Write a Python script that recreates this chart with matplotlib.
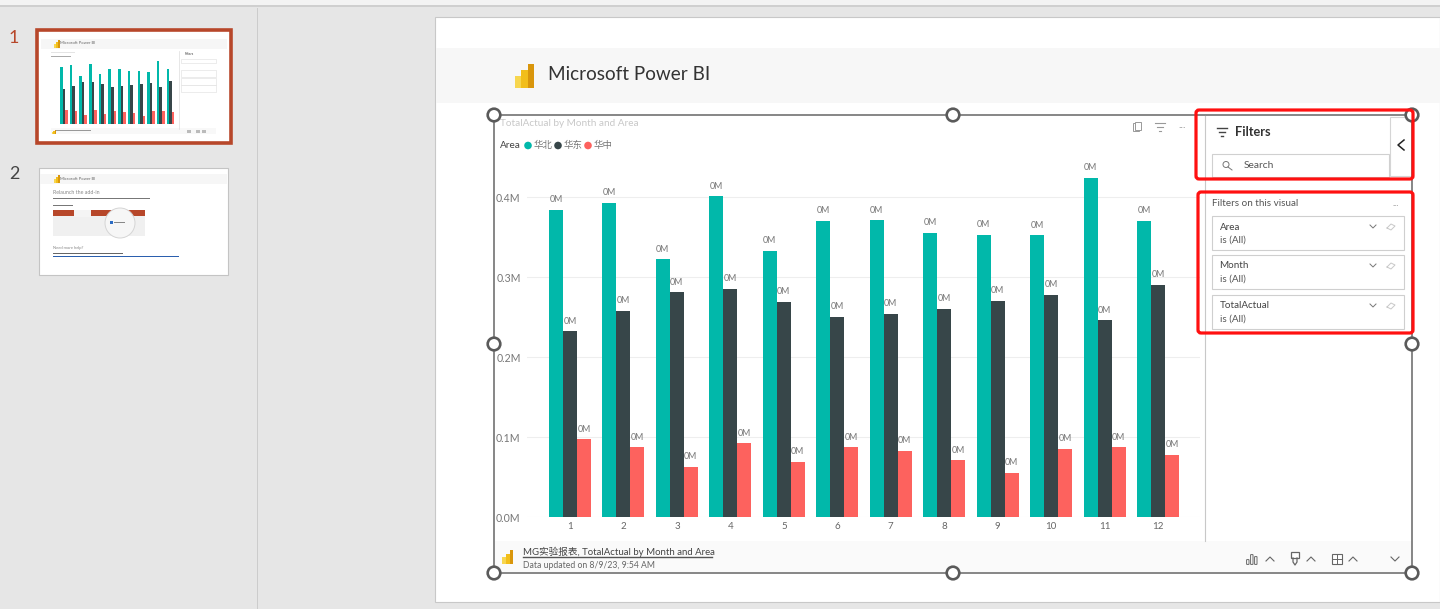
import matplotlib
matplotlib.use("Agg")
import matplotlib.pyplot as plt
from matplotlib.patches import Rectangle, Circle, FancyBboxPatch

plt.rcParams['font.family'] = ['Lato', 'Noto Sans CJK SC', 'DejaVu Sans']

# values, in millions
months = ['1', '2', '3', '4', '5', '6', '7', '8', '9', '10', '11', '12']
huabei = [0.384, 0.393, 0.322, 0.401, 0.333, 0.370, 0.371, 0.355, 0.353, 0.352, 0.424, 0.370]
huadong = [0.232, 0.258, 0.281, 0.285, 0.269, 0.250, 0.254, 0.260, 0.270, 0.278, 0.246, 0.290]
huazhong = [0.097, 0.087, 0.063, 0.092, 0.069, 0.087, 0.083, 0.071, 0.055, 0.085, 0.087, 0.078]
y_ticks = [0.0, 0.1, 0.2, 0.3, 0.4]
y_tick_labels = ['0.0M', '0.1M', '0.2M', '0.3M', '0.4M']
area_names = ['华北', '华东', '华中']
filter_names = ['Area', 'Month', 'TotalActual']

TEAL = '#01B8AA'
DARK = '#374649'
RED = '#FD625E'
W, H = 1440, 609
BAR_W = 0.262
X_RANGE = (0.196, 12.786)

fig = plt.figure(figsize=(14.4, 6.09), dpi=100, facecolor='#e6e6e6')


def px_axes(x0, y0, x1, y1, zorder):
    # axes placed by pixel box, y measured from the top of the picture
    return fig.add_axes([x0 / W, 1 - y1 / H, (x1 - x0) / W, (y1 - y0) / H], zorder=zorder)


def draw_bars(ax, xlim):
    x = list(range(1, len(months) + 1))
    series = [huabei, huadong, huazhong]
    colors = [TEAL, DARK, RED]
    containers = []
    for i in range(3):
        pos = [v + (i - 1) * BAR_W for v in x]
        containers.append(ax.bar(pos, series[i], BAR_W, color=colors[i], linewidth=0, zorder=3))
    ax.set_xlim(*xlim)
    ax.set_ylim(0, 0.45)
    ax.set_xticks(x)
    ax.set_yticks(y_ticks)
    ax.patch.set_alpha(0)
    for s in ax.spines.values():
        s.set_visible(False)
    return containers


# overlay for all the window chrome, in pixels
bg = px_axes(0, 0, W, H, 0)
bg.set_xlim(0, W)
bg.set_ylim(H, 0)
bg.axis('off')

bg.add_patch(Rectangle((0, 0), W, 5, color='#f3f3f3', lw=0))
bg.add_patch(Rectangle((0, 5), W, 2, color='#cfcfcf', lw=0))
bg.add_patch(Rectangle((257, 8), 1, H, color='#cccccc', lw=0))
bg.add_patch(Rectangle((435, 17), 1005, 585, facecolor='white', edgecolor='#c8c8c8', lw=0.8))
bg.add_patch(Rectangle((436, 48), 1004, 55, color='#f7f7f7', lw=0))
bg.add_patch(Rectangle((495, 541), 917, 31, color='#fafafa', lw=0))


def logo(ax, x, y, s):
    # power bi mark, three rising bars
    for dx, dy, c in [(0, 12, '#F7D64F'), (6.3, 6, '#F2BE1A'), (12.6, 0, '#D9960C')]:
        ax.add_patch(Rectangle((x + dx * s, y + dy * s), 6.4 * s, (24 - dy) * s, color=c, lw=0))


logo(bg, 515, 64, 1)
bg.text(548, 75, 'Microsoft Power BI', fontsize=13.6, color='#333333', va='center')

# slide numbers
bg.text(9, 38, '1', fontsize=13, color='#B7472A', va='center')
bg.text(9, 174, '2', fontsize=13, color='#444444', va='center')

# thumbnail 1
bg.add_patch(Rectangle((37, 30), 194, 113, facecolor='white', edgecolor='#B7472A', lw=2.6))
bg.add_patch(Rectangle((41, 39), 186, 10, color='#f6f6f6', lw=0))
logo(bg, 53.5, 39.5, 0.34)
bg.text(60, 43.5, 'Microsoft Power BI', fontsize=3, color='#666666', va='center')
bg.add_patch(Rectangle((51, 52), 24, 1.2, color='#e4e4e4', lw=0))
bg.add_patch(Rectangle((51, 56), 20, 1.2, color='#aaaaaa', lw=0))
bg.plot([179, 179], [51, 129], color='#dddddd', lw=0.5)
bg.add_patch(Rectangle((181, 59), 35, 4, facecolor='white', edgecolor='#dddddd', lw=0.4))
for y0 in (70, 78, 85):
    bg.add_patch(Rectangle((181, y0), 35, 6.5, facecolor='white', edgecolor='#dddddd', lw=0.4))
bg.text(185, 54, 'Filters', fontsize=2.4, color='#444444', va='center')
bg.add_patch(Rectangle((51, 128), 165, 6, color='#f8f8f8', lw=0))
logo(bg, 52, 129.5, 0.2)
bg.add_patch(Rectangle((56, 130), 35, 1, color='#999999', lw=0))
bg.add_patch(Rectangle((56, 132.5), 24, 0.8, color='#cccccc', lw=0))
for i in (187, 196, 202):
    bg.add_patch(Rectangle((i, 130), 4, 3, color='#bbbbbb', lw=0))

# thumbnail 2
bg.add_patch(Rectangle((39, 168), 189, 107, facecolor='white', edgecolor='#c4c4c4', lw=0.8))
bg.add_patch(Rectangle((40, 174), 187, 10, color='#f6f6f6', lw=0))
logo(bg, 53.5, 174.5, 0.34)
bg.text(60, 179, 'Microsoft Power BI', fontsize=3, color='#666666', va='center')
bg.text(53, 192, 'Relaunch the add-in', fontsize=3.8, color='#888888', va='center')
bg.add_patch(Rectangle((53, 198), 97, 1, color='#777777', lw=0))
bg.add_patch(Rectangle((53, 204.5), 20, 1, color='#777777', lw=0))
bg.add_patch(Rectangle((53, 210), 92, 6, color='#B7472A', lw=0))
bg.add_patch(Rectangle((53, 216), 92, 20, color='#f0f0f0', lw=0))
bg.add_patch(Rectangle((74, 210), 17, 7, color='#f4f4f4', lw=0))
bg.add_patch(Circle((120, 223), 15, facecolor='#f6f6f6', edgecolor='#d5d5d5', lw=0.7, zorder=3))
bg.add_patch(Rectangle((110, 221), 3, 3, color='#2b6cc4', lw=0, zorder=4))
bg.add_patch(Rectangle((114, 222), 11, 1, color='#888888', lw=0, zorder=4))
bg.text(53, 247.5, 'Need more help?', fontsize=3, color='#888888', va='center')
bg.add_patch(Rectangle((53, 253), 70, 0.8, color='#666666', lw=0))
bg.add_patch(Rectangle((53, 256), 126, 0.8, color='#2b5fae', lw=0))

# main chart
ax = px_axes(527, 157, 1200, 517, 1)
bars = draw_bars(ax, X_RANGE)
for c in bars:
    ax.bar_label(c, labels=['0M'] * len(months), padding=4, fontsize=6.4, color='#777777')
ax.set_yticklabels(y_tick_labels, fontsize=7.6, color='#777777')
ax.set_xticklabels(months, fontsize=7, color='#666666')
ax.tick_params(length=0)
ax.tick_params(axis='x', pad=3.5)
ax.tick_params(axis='y', pad=4.5)
ax.grid(axis='y', color='#eeeeee', lw=0.8, zorder=0)
ax.set_axisbelow(True)

# thumbnail chart, same numbers
mini = px_axes(56, 57, 178, 124, 1)
draw_bars(mini, X_RANGE)
mini.set_xticks([])
mini.set_yticks([])

# overlay above the chart
top = px_axes(0, 0, W, H, 5)
top.set_xlim(0, W)
top.set_ylim(H, 0)
top.axis('off')
top.patch.set_alpha(0)

top.text(500, 124, 'TotalActual by Month and Area', fontsize=7.2, color='#c8c8c8', va='center')
top.text(500, 145.5, 'Area', fontsize=7.2, color='#444444', va='center')
for xc, name, col in zip((528, 558, 588), area_names, (TEAL, DARK, RED)):
    top.add_patch(Circle((xc, 145.5), 3.8, color=col, lw=0))
    top.text(xc + 5.5, 145.5, name, fontsize=6.8, color='#777777', va='center')

# visual header icons
top.add_patch(Rectangle((1133, 123), 6, 8, facecolor='white', edgecolor='#999999', lw=0.7))
top.add_patch(Rectangle((1135, 122), 6, 8, facecolor='white', edgecolor='#999999', lw=0.7))
for y0, a, b in ((123, 1155, 1165), (127, 1157, 1163), (131, 1159, 1161)):
    top.plot([a, b], [y0, y0], color='#999999', lw=0.8)
top.text(1182, 125, '...', fontsize=7.5, color='#777777', ha='center', va='center')

# filter pane
top.plot([1205, 1205], [116, 541], color='#c8c8c8', lw=0.8)
for y0, a, b in ((128, 1217, 1227), (132, 1219, 1225), (136, 1221, 1223)):
    top.plot([a, b], [y0, y0], color='#444444', lw=1)
top.text(1235, 132, 'Filters', fontsize=9.2, color='#333333', va='center', weight='bold')
top.add_patch(Rectangle((1212, 154), 177, 23, facecolor='white', edgecolor='#d0d0d0', lw=0.8))
top.add_patch(Circle((1226, 164.5), 3, facecolor='none', edgecolor='#777777', lw=0.7))
top.plot([1228, 1232], [167, 170], color='#777777', lw=0.7)
top.text(1244, 165, 'Search', fontsize=7.4, color='#555555', va='center')
top.add_patch(Rectangle((1390, 117), 22, 59, facecolor='white', edgecolor='#d5d5d5', lw=0.8))
top.plot([1404, 1398, 1404], [140, 145, 150], color='#222222', lw=1.1)
top.text(1212, 203, 'Filters on this visual', fontsize=7.1, color='#555555', va='center')
top.text(1396, 203, '...', fontsize=6.5, color='#777777', ha='center', va='center')

for y0, name in zip((216, 255, 295), filter_names):
    top.add_patch(Rectangle((1212, y0), 192, 34, facecolor='white', edgecolor='#cfcfcf', lw=0.8))
    top.text(1219.5, y0 + 11, name, fontsize=7.1, color='#444444', va='center')
    top.text(1219.5, y0 + 24.5, 'is (All)', fontsize=7.1, color='#555555', va='center')
    top.plot([1370, 1373, 1376], [y0 + 9, y0 + 12, y0 + 9], color='#777777', lw=0.7)
    top.plot([1387, 1391, 1395, 1391, 1387], [y0 + 12, y0 + 8, y0 + 10, y0 + 14, y0 + 12],
             color='#c8c8c8', lw=0.7)

# footer
logo(top, 502, 550, 0.6)
top.text(523, 551.5, 'MG实验报表, TotalActual by Month and Area', fontsize=6.9, color='#444444', va='center')
top.plot([523, 712], [557, 557], color='#555555', lw=1)
top.text(523, 566, 'Data updated on 8/9/23, 9:54 AM', fontsize=6.2, color='#666666', va='center')
for xb, h in ((1247, 4), (1251, 9), (1255, 7)):
    top.add_patch(FancyBboxPatch((xb, 564 - h), 1.6, h, boxstyle='round,pad=0.4', facecolor='white',
                                 edgecolor='#666666', lw=0.7))
top.add_patch(Rectangle((1291, 552), 8, 6, facecolor='white', edgecolor='#666666', lw=0.9))
top.plot([1293, 1293, 1295, 1297, 1297], [558, 562, 565, 562, 558], color='#666666', lw=0.9)
top.add_patch(Rectangle((1332, 554), 10, 10, facecolor='white', edgecolor='#666666', lw=0.8))
top.plot([1337, 1337], [554, 564], color='#666666', lw=0.7)
top.plot([1332, 1342], [559, 559], color='#666666', lw=0.7)
for xc in (1270, 1311, 1353):
    top.plot([xc - 4, xc, xc + 4], [561, 557, 561], color='#666666', lw=0.8)
top.plot([1391, 1395, 1399], [557, 561, 557], color='#666666', lw=0.8)

# selection frame with handles
top.add_patch(Rectangle((494, 115), 918, 458, facecolor='none', edgecolor='#666666', lw=1.1))
for xc, yc in ((494, 115), (953, 115), (1412, 115), (494, 344), (1412, 344), (494, 573), (953, 573), (1412, 573)):
    top.add_patch(Circle((xc, yc), 6.3, facecolor='white', edgecolor='#5a5a5a', lw=1.9, zorder=6))

# red highlight boxes
for x0, y0, x1, y1 in ((1196, 110, 1413, 179), (1198, 192, 1413, 333)):
    top.add_patch(FancyBboxPatch((x0, y0), x1 - x0, y1 - y0, boxstyle='round,pad=0,rounding_size=3',
                                 facecolor='none', edgecolor='#FF1010', lw=2.3, zorder=7))

fig.savefig('out.png', dpi=100)
